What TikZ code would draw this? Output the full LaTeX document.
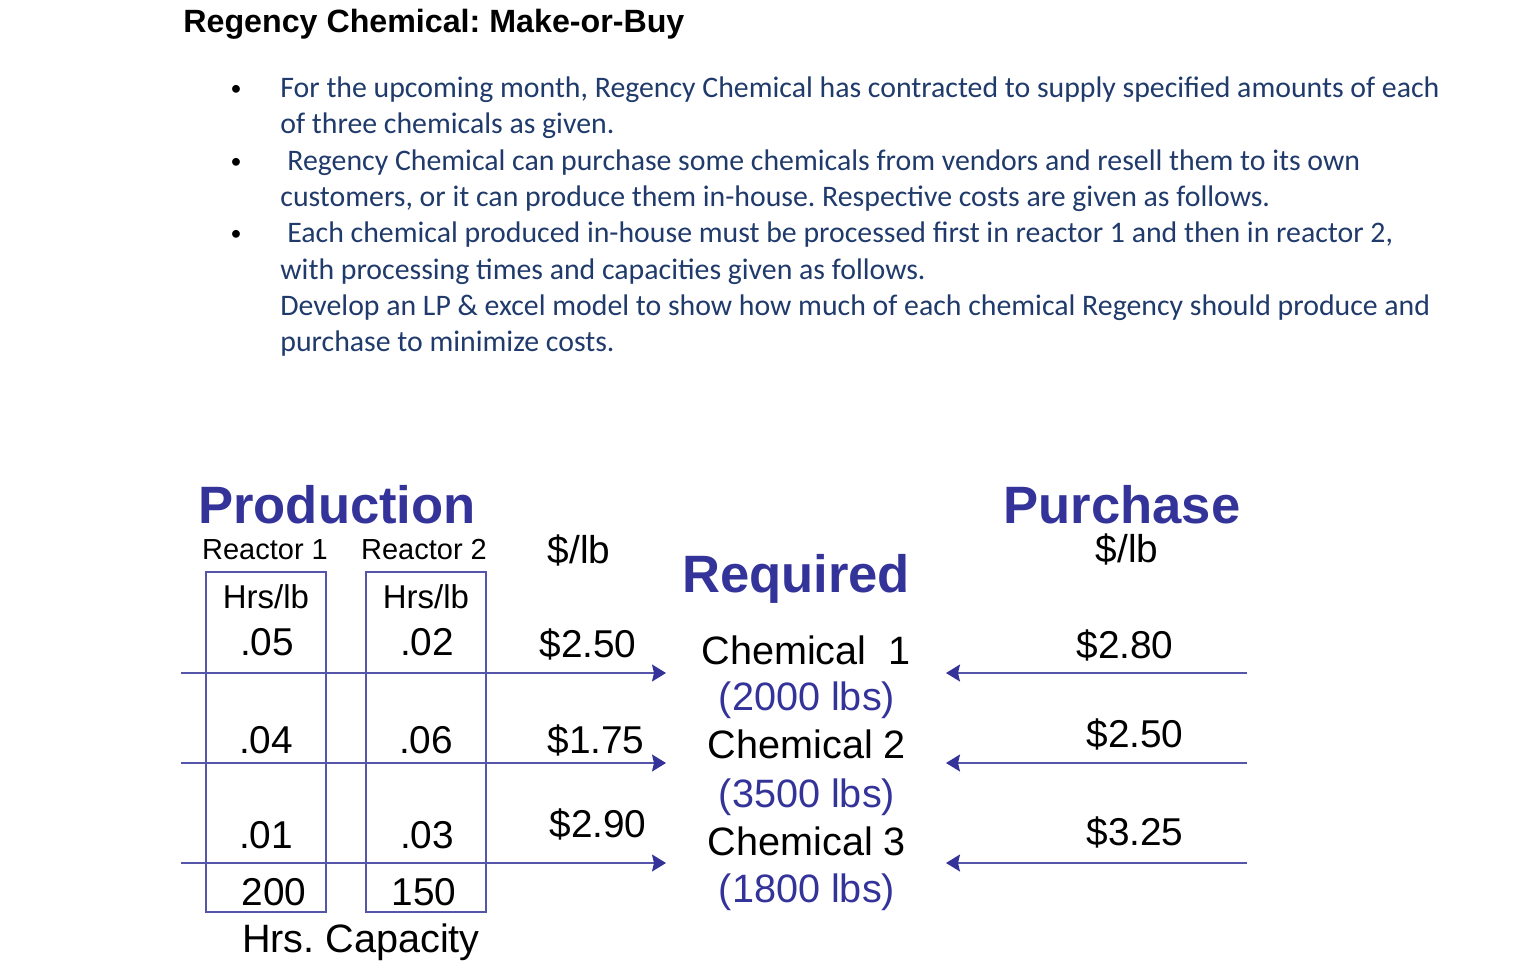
\documentclass[tikz,border=0pt]{standalone}
\usepackage{fontspec}
\setmainfont{Liberation Sans}
\newfontfamily\calib{Carlito}
\usetikzlibrary{arrows.meta}
\definecolor{hblue}{HTML}{333399}
\definecolor{lblue}{HTML}{5555AA}
\definecolor{navy}{HTML}{1F3A6B}
\newcommand{\fsz}[1]{\fontsize{#1}{#1}\selectfont}
\frenchspacing
\tikzset{
  txt/.style={inner sep=0pt, anchor=base},
  ttl/.style={txt, anchor=base west, font=\bfseries\fsz{16.1}},
  bul/.style={txt, anchor=base west, font=\calib\fsz{14.9}, text=navy},
  dot/.style={txt, font=\calib\fsz{11}},
  head/.style={txt, font=\bfseries\fsz{26.3}, text=hblue},
  react/.style={txt, font=\fsz{14.5}},
  hrs/.style={txt, font=\fsz{16.5}},
  num/.style={txt, font=\fsz{19.4}},
  chem/.style={txt, font=\fsz{19.8}},
  lbs/.style={txt, font=\fsz{19.8}, text=hblue},
  boxline/.style={draw=lblue, line width=0.65pt},
  flow/.style={draw=lblue, line width=0.65pt, -{Stealth[inset=1pt,length=7pt,width=8.5pt,color=hblue]}},
}
\begin{document}
\begin{tikzpicture}[x=0.5pt, y=-0.5pt]
\useasboundingbox (0,0) rectangle (1518,972);
% title
\node[ttl] (title) at (183,33) {Regency Chemical: Make-or-Buy};
% bullets
\node[dot] (d1) at (236,96) {•};
\node[dot] (d2) at (236,169) {•};
\node[dot] (d3) at (236,241) {•};
\node[bul] (b1) at (280,98) {For the upcoming month, Regency Chemical has contracted to supply specified amounts of each};
\node[bul] (b2) at (280,134) {of three chemicals as given.};
\node[bul] (b3) at (287,171) {Regency Chemical can purchase some chemicals from vendors and resell them to its own};
\node[bul] (b4) at (280,207) {customers, or it can produce them in-house. Respective costs are given as follows.};
\node[bul] (b5) at (287,243) {Each chemical produced in-house must be processed first in reactor 1 and then in reactor 2,};
\node[bul] (b6) at (280,280) {with processing times and capacities given as follows.};
\node[bul] (b7) at (280,316) {Develop an LP \& excel model to show how much of each chemical Regency should produce and};
\node[bul] (b8) at (280,352) {purchase to minimize costs.};
% headings
\node[head] (prod) at (337,523) {Production};
\node[head] (purch) at (1122,523) {Purchase};
\node[head] (req) at (796,592) {Required};
\node[react] (r1) at (265,559) {Reactor 1};
\node[react] (r2) at (424,559) {Reactor 2};
\node[num] (pl) at (579,563) {\$/lb};
\node[num] (pr) at (1127,562) {\$/lb};
% reactor boxes
\draw[boxline] (206,572) rectangle (326,912);
\draw[boxline] (366,572) rectangle (486,912);
\node[hrs] (h1) at (266,608) {Hrs/lb};
\node[hrs] (h2) at (426,608) {Hrs/lb};
% row 1
\node[num] (a11) at (267,655) {.05};
\node[num] (a12) at (427,655) {.02};
\node[num] (c1) at (588,657) {\$2.50};
% row 2
\node[num] (a21) at (266,753) {.04};
\node[num] (a22) at (426,753) {.06};
\node[num] (c2) at (596,753) {\$1.75};
% row 3
\node[num] (a31) at (266,848) {.01};
\node[num] (a32) at (427,848) {.03};
\node[num] (c3) at (598,837) {\$2.90};
% capacity
\node[num] (cap1) at (274,905) {200};
\node[num] (cap2) at (424,905) {150};
\node[chem] (capl) at (361,952) {Hrs. Capacity};
% required
\node[chem] (ch1) at (806,664) {Chemical\ \ 1};
\node[lbs] (q1) at (807,710) {(2000 lbs)};
\node[chem] (ch2) at (807,758) {Chemical 2};
\node[lbs] (q2) at (807,807) {(3500 lbs)};
\node[chem] (ch3) at (807,855) {Chemical 3};
\node[lbs] (q3) at (807,902) {(1800 lbs)};
% purchase prices
\node[num] (p1) at (1125,658) {\$2.80};
\node[num] (p2) at (1135,747) {\$2.50};
\node[num] (p3) at (1135,845) {\$3.25};
% connectors
\coordinate (ls1) at (181,673); \coordinate (le1) at (666,673);
\coordinate (ls2) at (181,763); \coordinate (le2) at (666,763);
\coordinate (ls3) at (181,863); \coordinate (le3) at (666,863);
\coordinate (rs1) at (1247,673); \coordinate (re1) at (946,673);
\coordinate (rs2) at (1247,763); \coordinate (re2) at (946,763);
\coordinate (rs3) at (1247,863); \coordinate (re3) at (946,863);
\draw[flow] (ls1) -- (le1);
\draw[flow] (ls2) -- (le2);
\draw[flow] (ls3) -- (le3);
\draw[flow] (rs1) -- (re1);
\draw[flow] (rs2) -- (re2);
\draw[flow] (rs3) -- (re3);
\end{tikzpicture}
\end{document}
